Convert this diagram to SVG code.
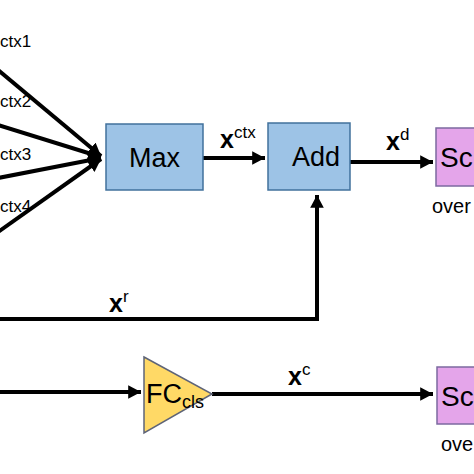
<svg xmlns="http://www.w3.org/2000/svg" width="474" height="474" viewBox="0 0 474 474">
<defs>
<marker id="ah" markerWidth="4" markerHeight="4" refX="3.2" refY="2" orient="auto" markerUnits="strokeWidth">
<path d="M0,0.3 L3.2,2 L0,3.7 z" fill="#000"/>
</marker>
<style>
text{font-family:"Liberation Sans",Arial,sans-serif;fill:#000}
.lbl{font-size:17px}
.var{font-size:25px;font-weight:bold}
.sup{font-size:17px}
.big{font-size:27px}
.blue{fill:#9DC3E6;stroke:#41719C;stroke-width:1.5}
.purple{fill:#E4A5EA;stroke:#7C6AA0;stroke-width:1.5}
.yellow{fill:#FFD966;stroke:#5E6478;stroke-width:1.5}
.ln{stroke:#000;stroke-width:4;fill:none}
</style>
</defs>
<rect width="474" height="474" fill="#fff"/>
<g id="connectors">
<line class="ln" x1="-2" y1="70" x2="101" y2="156" marker-end="url(#ah)"/>
<line class="ln" x1="-2" y1="125" x2="101" y2="157" marker-end="url(#ah)"/>
<line class="ln" x1="-2" y1="178" x2="101" y2="158" marker-end="url(#ah)"/>
<line class="ln" x1="-2" y1="232" x2="101" y2="159" marker-end="url(#ah)"/>
<line class="ln" x1="203" y1="158" x2="265" y2="158" marker-end="url(#ah)"/>
<line class="ln" x1="350" y1="162" x2="433" y2="162" marker-end="url(#ah)"/>
<polyline class="ln" points="-2,319 317,319 317,195" marker-end="url(#ah)"/>
<line class="ln" x1="-2" y1="392" x2="141" y2="392" marker-end="url(#ah)"/>
<line class="ln" x1="212" y1="394" x2="433" y2="394" marker-end="url(#ah)"/>
<text class="lbl" x="0" y="47">ctx1</text>
<text class="lbl" x="0" y="107">ctx2</text>
<text class="lbl" x="0" y="160">ctx3</text>
<text class="lbl" x="0" y="212">ctx4</text>
<text x="220" y="148"><tspan class="var">x</tspan><tspan class="sup" dy="-10">ctx</tspan></text>
<text x="386" y="150"><tspan class="var">x</tspan><tspan class="sup" dy="-10">d</tspan></text>
<text x="109" y="312"><tspan class="var">x</tspan><tspan class="sup" dy="-10">r</tspan></text>
<text x="288" y="385"><tspan class="var">x</tspan><tspan class="sup" dy="-10">c</tspan></text>
</g>
<g id="max">
<rect class="blue" x="106" y="124" width="97" height="66"/>
<text class="big" x="154.5" y="167" text-anchor="middle">Max</text>
</g>
<g id="add">
<rect class="blue" x="268" y="123" width="82" height="67"/>
<text class="big" x="316" y="166" text-anchor="middle">Add</text>
</g>
<g id="score1">
<rect class="purple" x="436" y="128" width="45" height="58"/>
<text style="font-size:28px" x="440" y="167">Sc</text>
<text style="font-size:20px" x="432" y="213">over</text>
</g>
<g id="fccls">
<polygon class="yellow" points="144,357 212,394 144,433"/>
<text x="146" y="403"><tspan style="font-size:27px">FC</tspan><tspan style="font-size:18px" dy="5">cls</tspan></text>
</g>
<g id="score2">
<rect class="purple" x="437" y="367" width="45" height="57"/>
<text style="font-size:28px" x="441" y="406">Sc</text>
<text style="font-size:20px" x="441" y="451">ove</text>
</g>
</svg>
